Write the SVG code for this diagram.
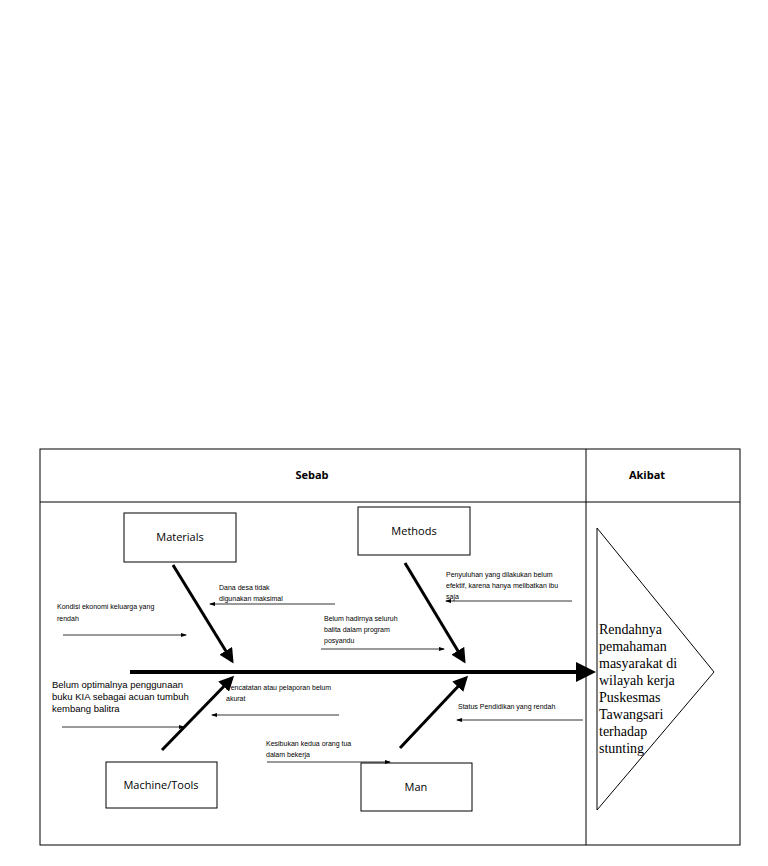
<svg xmlns="http://www.w3.org/2000/svg" width="768" height="866" viewBox="0 0 768 866">
<style>
.f{fill:none;stroke:#000}
.s{font-family:"Liberation Sans",sans-serif;font-size:7px;fill:#000}
.b{font-family:"Open Sans","Liberation Sans",sans-serif;font-size:11px;fill:#000}
.t{font-family:"Liberation Serif",serif;font-size:14px;fill:#000}
.sm{stroke:#000;stroke-width:0.8;marker-end:url(#a)}
.bone{stroke:#000;stroke-width:3;marker-end:url(#A)}
</style>
<defs>
<marker id="a" markerWidth="6" markerHeight="6" refX="5" refY="3" orient="auto" markerUnits="userSpaceOnUse"><path d="M0,1 L6,3 L0,5z"/></marker>
<marker id="A" markerWidth="5" markerHeight="5" refX="4" refY="2.5" orient="auto"><path d="M0,0 L5,2.5 L0,5z"/></marker>
</defs>
<rect width="768" height="866" fill="#fff"/>
<g id="frame">
<rect class="f" x="40" y="449" width="700" height="396"/>
<line class="f" x1="40" y1="502" x2="740" y2="502"/>
<line class="f" x1="586" y1="449" x2="586" y2="845"/>
<text class="b" x="312" y="479" text-anchor="middle" font-weight="bold">Sebab</text>
<text class="b" x="647" y="479" text-anchor="middle" font-weight="bold">Akibat</text>
</g>
<g id="effect">
<polygon class="f" points="597,528 714,672 597,810"/>
<text class="t"><tspan x="599" y="634">Rendahnya</tspan><tspan x="599" y="651">pemahaman</tspan><tspan x="599" y="668">masyarakat di</tspan><tspan x="599" y="685">wilayah kerja</tspan><tspan x="599" y="702">Puskesmas</tspan><tspan x="599" y="719">Tawangsari</tspan><tspan x="599" y="736">terhadap</tspan><tspan x="599" y="753">stunting</tspan></text>
</g>
<g id="materials"><rect class="f" x="124" y="513" width="112" height="49"/><text class="b" x="180" y="541" text-anchor="middle">Materials</text></g>
<g id="methods"><rect class="f" x="358" y="507" width="112" height="48"/><text class="b" x="414" y="535" text-anchor="middle">Methods</text></g>
<g id="machine"><rect class="f" x="106" y="762" width="111" height="46"/><text class="b" x="161" y="789" text-anchor="middle">Machine/Tools</text></g>
<g id="man"><rect class="f" x="361" y="763" width="111" height="48"/><text class="b" x="416" y="791" text-anchor="middle">Man</text></g>
<g id="connectors">
<line x1="130" y1="672" x2="592" y2="672" stroke="#000" stroke-width="4" marker-end="url(#A)"/>
<line class="bone" x1="173" y1="565" x2="232" y2="661"/>
<line class="bone" x1="405" y1="563" x2="464" y2="661"/>
<line class="bone" x1="162" y1="750" x2="232" y2="678"/>
<line class="bone" x1="400" y1="748" x2="466" y2="678"/>
<line class="sm" x1="335" y1="604" x2="210" y2="604"/>
<line class="sm" x1="63" y1="635" x2="186" y2="635"/>
<line class="sm" x1="321" y1="649" x2="444" y2="649"/>
<line class="sm" x1="572" y1="601" x2="446" y2="601"/>
<line class="sm" x1="62" y1="727" x2="184" y2="727"/>
<line class="sm" x1="339" y1="715" x2="212" y2="715"/>
<line class="sm" x1="583" y1="720" x2="457" y2="720"/>
<line class="sm" x1="267" y1="762" x2="390" y2="762"/>
</g>
<g id="labels">
<text class="s"><tspan x="219" y="590">Dana desa tidak</tspan><tspan x="219" y="601">digunakan maksimal</tspan></text>
<text class="s"><tspan x="57" y="609">Kondisi ekonomi keluarga yang</tspan><tspan x="57" y="621">rendah</tspan></text>
<text class="s"><tspan x="324" y="621">Belum hadirnya seluruh</tspan><tspan x="324" y="632">balita dalam program</tspan><tspan x="324" y="643">posyandu</tspan></text>
<text class="s"><tspan x="446" y="577">Penyuluhan yang dilakukan belum</tspan><tspan x="446" y="588">efektif, karena hanya melibatkan ibu</tspan><tspan x="446" y="599">saja</tspan></text>
<text class="s" style="font-size:9.5px"><tspan x="52" y="688">Belum optimalnya penggunaan</tspan><tspan x="52" y="700">buku KIA sebagai acuan tumbuh</tspan><tspan x="52" y="712">kembang balitra</tspan></text>
<text class="s"><tspan x="226" y="690">Pencatatan atau pelaporan belum</tspan><tspan x="226" y="701">akurat</tspan></text>
<text class="s" x="458" y="709">Status Pendidikan yang rendah</text>
<text class="s"><tspan x="266" y="746">Kesibukan kedua orang tua</tspan><tspan x="266" y="757">dalam bekerja</tspan></text>
</g>
</svg>
